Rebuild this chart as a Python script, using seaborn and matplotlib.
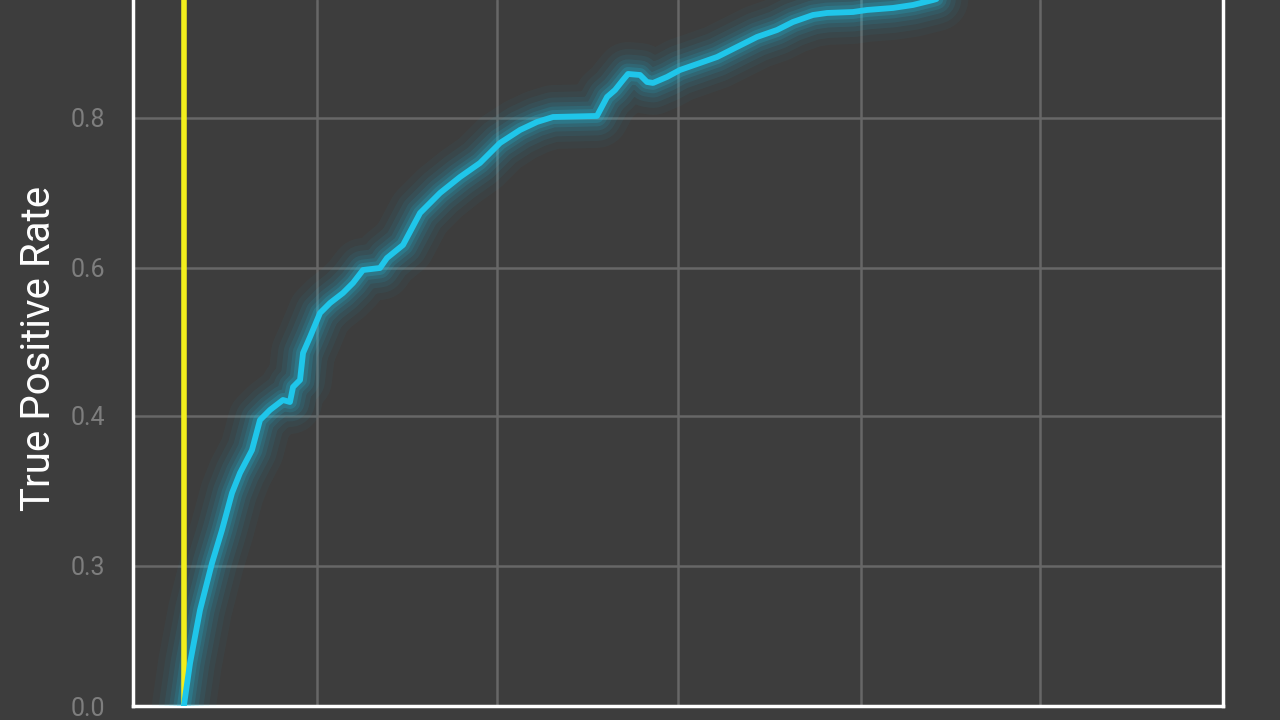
import matplotlib
matplotlib.use("Agg")
import matplotlib.pyplot as plt
import seaborn as sns
import pandas as pd

# ---- data ----
fpr = [0.056, 0.0628, 0.0738, 0.0870, 0.0980, 0.1090, 0.1178, 0.1310, 0.1398, 0.1508,
       0.1651, 0.1728, 0.1762, 0.1839, 0.1872, 0.1949, 0.2059, 0.2169, 0.2312, 0.2422,
       0.2532, 0.2719, 0.2796, 0.2973, 0.3160, 0.3380, 0.3600, 0.3820, 0.4041, 0.4261,
       0.4448, 0.4624, 0.5108, 0.5219, 0.5307, 0.5395, 0.5450, 0.5582, 0.5659, 0.5725,
       0.5879, 0.6022, 0.6242, 0.6430, 0.6650, 0.6870, 0.7090, 0.7266, 0.7486, 0.7641,
       0.7927, 0.8081, 0.8367, 0.8588, 0.8808, 0.9105, 0.9550]
tpr = [0.0, 0.0573, 0.128, 0.1907, 0.2347, 0.284, 0.3107, 0.3413, 0.3813, 0.3947,
       0.408, 0.4053, 0.4253, 0.4347, 0.4707, 0.492, 0.524, 0.5373, 0.5507, 0.564,
       0.5813, 0.584, 0.5973, 0.6147, 0.6573, 0.684, 0.7053, 0.724, 0.7507, 0.768,
       0.7787, 0.7853, 0.7867, 0.812, 0.8213, 0.8347, 0.8427, 0.8413, 0.832, 0.8307,
       0.8387, 0.848, 0.8573, 0.8653, 0.8787, 0.892, 0.9013, 0.912, 0.9213, 0.924,
       0.9253, 0.928, 0.9307, 0.9347, 0.9413, 0.952, 0.961]
threshold_x = 0.056
y_ticks = [0.0, 0.187, 0.387, 0.584, 0.784]
y_tick_labels = ["0.0", "0.3", "0.4", "0.6", "0.8"]
x_ticks = [0.203, 0.401, 0.6, 0.801, 0.998]
y_label = "True Positive Rate"

BG = "#3d3d3d"
CYAN = "#1fc6ea"
YELLOW = "#f2ee1c"
GRID = "#676767"

sns.set_style("dark", {"axes.facecolor": BG, "figure.facecolor": BG})
plt.rcParams['font.family'] = ['Roboto', 'DejaVu Sans']

fig = plt.figure(figsize=(12.8, 7.2), dpi=100)
ax = fig.add_axes([133 / 1280, 14 / 720, 1090 / 1280, 706 / 720])
ax.set_facecolor(BG)

df = pd.DataFrame({"fpr": fpr, "tpr": tpr})

# glow layers
for lw, a in [(46, 0.035), (36, 0.05), (28, 0.07), (21, 0.09), (15, 0.12), (10, 0.18)]:
    ax.plot(df["fpr"], df["tpr"], color=CYAN, lw=lw, alpha=a,
            solid_capstyle="round", solid_joinstyle="round", zorder=3)

ax.axvline(threshold_x, color=YELLOW, lw=4.0, zorder=4)

sns.lineplot(data=df, x="fpr", y="tpr", sort=False, ax=ax, color=CYAN,
             lw=4.2, zorder=5, estimator=None)

ax.set_xlim(0, 1.2)
ax.set_ylim(0, 0.9413)
ax.set_xticks(x_ticks)
ax.set_xticklabels([])
ax.set_yticks(y_ticks)
ax.set_yticklabels(y_tick_labels)
ax.tick_params(axis="y", length=0, pad=20, labelsize=18, labelcolor="#7e7e7e")
ax.tick_params(axis="x", length=0)
ax.grid(True, color=GRID, lw=1.8)
ax.set_axisbelow(True)

ax.set_xlabel("")
ax.set_ylabel(y_label, fontsize=29, color="white")
ax.yaxis.set_label_coords(-75 / 1090, 0.506)

for side in ["left", "bottom", "right"]:
    ax.spines[side].set_visible(True)
    ax.spines[side].set_color("white")
    ax.spines[side].set_linewidth(2.5)
ax.spines["top"].set_visible(False)

fig.savefig("out.png", dpi=100, facecolor=BG)
